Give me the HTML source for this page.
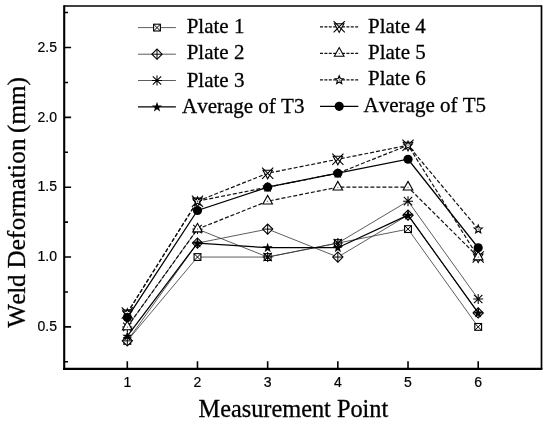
<!DOCTYPE html>
<html><head><meta charset="utf-8"><title>Weld Deformation</title>
<style>
html,body{margin:0;padding:0;background:#fff}
body{width:550px;height:425px;overflow:hidden}
svg{display:block}
.tk{font-family:"Liberation Sans",Arial,sans-serif;font-size:14px;fill:#000}
.ti{font-family:"Liberation Serif","Times New Roman",serif;font-size:24.3px;fill:#000}
.lg{font-family:"Liberation Serif","Times New Roman",serif;font-size:21px;fill:#000}
text{font-kerning:none}
.lg,.ti{stroke:#000;stroke-width:0.3px}
.tk{stroke:#000;stroke-width:0.2px}
</style></head><body>
<svg width="550" height="425" viewBox="0 0 550 425">
<rect width="550" height="425" fill="#fff"/>
<polyline points="127.30,340.87 197.48,257.05 267.66,257.05 337.84,243.08 408.02,229.11 478.20,326.90" fill="none" stroke="#333" stroke-width="0.8"/>
<rect x="123.90" y="337.47" width="6.8" height="6.8" fill="#fff" stroke="#000" stroke-width="1.1"/><path d="M123.90 337.47L130.70 344.27M130.70 337.47L123.90 344.27" stroke="#000" stroke-width="1" fill="none"/>
<rect x="194.08" y="253.65" width="6.8" height="6.8" fill="#fff" stroke="#000" stroke-width="1.1"/><path d="M194.08 253.65L200.88 260.45M200.88 253.65L194.08 260.45" stroke="#000" stroke-width="1" fill="none"/>
<rect x="264.26" y="253.65" width="6.8" height="6.8" fill="#fff" stroke="#000" stroke-width="1.1"/><path d="M264.26 253.65L271.06 260.45M271.06 253.65L264.26 260.45" stroke="#000" stroke-width="1" fill="none"/>
<rect x="334.44" y="239.68" width="6.8" height="6.8" fill="#fff" stroke="#000" stroke-width="1.1"/><path d="M334.44 239.68L341.24 246.48M341.24 239.68L334.44 246.48" stroke="#000" stroke-width="1" fill="none"/>
<rect x="404.62" y="225.71" width="6.8" height="6.8" fill="#fff" stroke="#000" stroke-width="1.1"/><path d="M404.62 225.71L411.42 232.51M411.42 225.71L404.62 232.51" stroke="#000" stroke-width="1" fill="none"/>
<rect x="474.80" y="323.50" width="6.8" height="6.8" fill="#fff" stroke="#000" stroke-width="1.1"/><path d="M474.80 323.50L481.60 330.30M481.60 323.50L474.80 330.30" stroke="#000" stroke-width="1" fill="none"/>
<polyline points="127.30,340.87 197.48,243.08 267.66,229.11 337.84,257.05 408.02,215.14 478.20,312.93" fill="none" stroke="#333" stroke-width="0.8"/>
<path d="M122.20 340.87L127.30 335.77L132.40 340.87L127.30 345.97Z" fill="#fff" stroke="#000" stroke-width="1.1"/><path d="M122.20 340.87H132.40M127.30 335.77V345.97" stroke="#000" stroke-width="1" fill="none"/>
<path d="M192.38 243.08L197.48 237.98L202.58 243.08L197.48 248.18Z" fill="#fff" stroke="#000" stroke-width="1.1"/><path d="M192.38 243.08H202.58M197.48 237.98V248.18" stroke="#000" stroke-width="1" fill="none"/>
<path d="M262.56 229.11L267.66 224.01L272.76 229.11L267.66 234.21Z" fill="#fff" stroke="#000" stroke-width="1.1"/><path d="M262.56 229.11H272.76M267.66 224.01V234.21" stroke="#000" stroke-width="1" fill="none"/>
<path d="M332.74 257.05L337.84 251.95L342.94 257.05L337.84 262.15Z" fill="#fff" stroke="#000" stroke-width="1.1"/><path d="M332.74 257.05H342.94M337.84 251.95V262.15" stroke="#000" stroke-width="1" fill="none"/>
<path d="M402.92 215.14L408.02 210.04L413.12 215.14L408.02 220.24Z" fill="#fff" stroke="#000" stroke-width="1.1"/><path d="M402.92 215.14H413.12M408.02 210.04V220.24" stroke="#000" stroke-width="1" fill="none"/>
<path d="M473.10 312.93L478.20 307.83L483.30 312.93L478.20 318.03Z" fill="#fff" stroke="#000" stroke-width="1.1"/><path d="M473.10 312.93H483.30M478.20 307.83V318.03" stroke="#000" stroke-width="1" fill="none"/>
<polyline points="127.30,326.90 197.48,229.11 267.66,257.05 337.84,243.08 408.02,201.17 478.20,298.96" fill="none" stroke="#333" stroke-width="0.8"/>
<path d="M122.30 326.90H132.30M127.30 321.90V331.90M123.10 322.70L131.50 331.10M131.50 322.70L123.10 331.10" stroke="#000" stroke-width="1.05" fill="none"/>
<path d="M192.48 229.11H202.48M197.48 224.11V234.11M193.28 224.91L201.68 233.31M201.68 224.91L193.28 233.31" stroke="#000" stroke-width="1.05" fill="none"/>
<path d="M262.66 257.05H272.66M267.66 252.05V262.05M263.46 252.85L271.86 261.25M271.86 252.85L263.46 261.25" stroke="#000" stroke-width="1.05" fill="none"/>
<path d="M332.84 243.08H342.84M337.84 238.08V248.08M333.64 238.88L342.04 247.28M342.04 238.88L333.64 247.28" stroke="#000" stroke-width="1.05" fill="none"/>
<path d="M403.02 201.17H413.02M408.02 196.17V206.17M403.82 196.97L412.22 205.37M412.22 196.97L403.82 205.37" stroke="#000" stroke-width="1.05" fill="none"/>
<path d="M473.20 298.96H483.20M478.20 293.96V303.96M474.00 294.76L482.40 303.16M482.40 294.76L474.00 303.16" stroke="#000" stroke-width="1.05" fill="none"/>
<polyline points="127.30,336.21 197.48,243.08 267.66,247.74 337.84,247.74 408.02,215.14 478.20,312.93" fill="none" stroke="#000" stroke-width="1.25"/>
<polygon points="127.30,331.11 128.53,334.71 132.34,334.78 129.30,337.06 130.42,340.70 127.30,338.51 124.18,340.70 125.30,337.06 122.26,334.78 126.07,334.71" fill="#000"/>
<polygon points="197.48,237.98 198.71,241.58 202.52,241.64 199.48,243.93 200.60,247.57 197.48,245.38 194.36,247.57 195.48,243.93 192.44,241.64 196.25,241.58" fill="#000"/>
<polygon points="267.66,242.64 268.89,246.24 272.70,246.30 269.66,248.59 270.78,252.22 267.66,250.04 264.54,252.22 265.66,248.59 262.62,246.30 266.43,246.24" fill="#000"/>
<polygon points="337.84,242.64 339.07,246.24 342.88,246.30 339.84,248.59 340.96,252.22 337.84,250.04 334.72,252.22 335.84,248.59 332.80,246.30 336.61,246.24" fill="#000"/>
<polygon points="408.02,210.04 409.25,213.64 413.06,213.70 410.02,215.99 411.14,219.63 408.02,217.44 404.90,219.63 406.02,215.99 402.98,213.70 406.79,213.64" fill="#000"/>
<polygon points="478.20,307.83 479.43,311.43 483.24,311.49 480.20,313.78 481.32,317.42 478.20,315.23 475.08,317.42 476.20,313.78 473.16,311.49 476.97,311.43" fill="#000"/>
<polyline points="127.30,312.93 197.48,201.17 267.66,173.23 337.84,159.26 408.02,145.29 478.20,257.05" fill="none" stroke="#111" stroke-width="1.2" stroke-dasharray="4 2"/>
<path d="M122.60 309.93H132.00L127.30 318.53Z" fill="#fff" stroke="#000" stroke-width="1.1"/><path d="M121.70 307.33L132.90 318.53M132.90 307.33L121.70 318.53" stroke="#000" stroke-width="1.1" fill="none"/>
<path d="M192.78 198.17H202.18L197.48 206.77Z" fill="#fff" stroke="#000" stroke-width="1.1"/><path d="M191.88 195.57L203.08 206.77M203.08 195.57L191.88 206.77" stroke="#000" stroke-width="1.1" fill="none"/>
<path d="M262.96 170.23H272.36L267.66 178.83Z" fill="#fff" stroke="#000" stroke-width="1.1"/><path d="M262.06 167.63L273.26 178.83M273.26 167.63L262.06 178.83" stroke="#000" stroke-width="1.1" fill="none"/>
<path d="M333.14 156.26H342.54L337.84 164.86Z" fill="#fff" stroke="#000" stroke-width="1.1"/><path d="M332.24 153.66L343.44 164.86M343.44 153.66L332.24 164.86" stroke="#000" stroke-width="1.1" fill="none"/>
<path d="M403.32 142.29H412.72L408.02 150.89Z" fill="#fff" stroke="#000" stroke-width="1.1"/><path d="M402.42 139.69L413.62 150.89M413.62 139.69L402.42 150.89" stroke="#000" stroke-width="1.1" fill="none"/>
<path d="M473.50 254.05H482.90L478.20 262.65Z" fill="#fff" stroke="#000" stroke-width="1.1"/><path d="M472.60 251.45L483.80 262.65M483.80 251.45L472.60 262.65" stroke="#000" stroke-width="1.1" fill="none"/>
<polyline points="127.30,326.90 197.48,229.11 267.66,201.17 337.84,187.20 408.02,187.20 478.20,257.05" fill="none" stroke="#111" stroke-width="1.2" stroke-dasharray="4 2"/>
<path d="M122.50 329.70H132.10L127.30 321.10Z" fill="#fff" stroke="#000" stroke-width="1.1"/><circle cx="127.30" cy="326.90" r="0.5" fill="#000"/>
<path d="M192.68 231.91H202.28L197.48 223.31Z" fill="#fff" stroke="#000" stroke-width="1.1"/><circle cx="197.48" cy="229.11" r="0.5" fill="#000"/>
<path d="M262.86 203.97H272.46L267.66 195.37Z" fill="#fff" stroke="#000" stroke-width="1.1"/><circle cx="267.66" cy="201.17" r="0.5" fill="#000"/>
<path d="M333.04 190.00H342.64L337.84 181.40Z" fill="#fff" stroke="#000" stroke-width="1.1"/><circle cx="337.84" cy="187.20" r="0.5" fill="#000"/>
<path d="M403.22 190.00H412.82L408.02 181.40Z" fill="#fff" stroke="#000" stroke-width="1.1"/><circle cx="408.02" cy="187.20" r="0.5" fill="#000"/>
<path d="M473.40 259.85H483.00L478.20 251.25Z" fill="#fff" stroke="#000" stroke-width="1.1"/><circle cx="478.20" cy="257.05" r="0.5" fill="#000"/>
<polyline points="127.30,312.93 197.48,201.17 267.66,187.20 337.84,173.23 408.02,145.29 478.20,229.11" fill="none" stroke="#111" stroke-width="1.2" stroke-dasharray="4 2"/>
<polygon points="127.30,308.83 128.42,311.59 131.39,311.80 129.11,313.72 129.83,316.61 127.30,315.03 124.77,316.61 125.49,313.72 123.21,311.80 126.18,311.59" fill="#fff" stroke="#000" stroke-width="1.1"/><circle cx="127.30" cy="312.93" r="0.55" fill="#000"/>
<polygon points="197.48,197.07 198.60,199.83 201.57,200.04 199.29,201.96 200.01,204.85 197.48,203.27 194.95,204.85 195.67,201.96 193.39,200.04 196.36,199.83" fill="#fff" stroke="#000" stroke-width="1.1"/><circle cx="197.48" cy="201.17" r="0.55" fill="#000"/>
<polygon points="267.66,183.10 268.78,185.86 271.75,186.07 269.47,187.99 270.19,190.88 267.66,189.30 265.13,190.88 265.85,187.99 263.57,186.07 266.54,185.86" fill="#fff" stroke="#000" stroke-width="1.1"/><circle cx="267.66" cy="187.20" r="0.55" fill="#000"/>
<polygon points="337.84,169.13 338.96,171.89 341.93,172.10 339.65,174.02 340.37,176.91 337.84,175.33 335.31,176.91 336.03,174.02 333.75,172.10 336.72,171.89" fill="#fff" stroke="#000" stroke-width="1.1"/><circle cx="337.84" cy="173.23" r="0.55" fill="#000"/>
<polygon points="408.02,141.19 409.14,143.95 412.11,144.16 409.83,146.08 410.55,148.97 408.02,147.39 405.49,148.97 406.21,146.08 403.93,144.16 406.90,143.95" fill="#fff" stroke="#000" stroke-width="1.1"/><circle cx="408.02" cy="145.29" r="0.55" fill="#000"/>
<polygon points="478.20,225.01 479.32,227.77 482.29,227.98 480.01,229.90 480.73,232.79 478.20,231.21 475.67,232.79 476.39,229.90 474.11,227.98 477.08,227.77" fill="#fff" stroke="#000" stroke-width="1.1"/><circle cx="478.20" cy="229.11" r="0.55" fill="#000"/>
<polyline points="127.30,317.59 197.48,210.48 267.66,187.20 337.84,173.23 408.02,159.26 478.20,247.74" fill="none" stroke="#000" stroke-width="1.25"/>
<circle cx="127.30" cy="317.59" r="4.6" fill="#000"/>
<circle cx="197.48" cy="210.48" r="4.6" fill="#000"/>
<circle cx="267.66" cy="187.20" r="4.6" fill="#000"/>
<circle cx="337.84" cy="173.23" r="4.6" fill="#000"/>
<circle cx="408.02" cy="159.26" r="4.6" fill="#000"/>
<circle cx="478.20" cy="247.74" r="4.6" fill="#000"/>
<path d="M64.2 5.2V370.04999999999995" stroke="#000" stroke-width="2.1" fill="none"/>
<path d="M63.150000000000006 368.9H542.35" stroke="#000" stroke-width="2.3" fill="none"/>
<path d="M64.2 6.0H541.5" stroke="#000" stroke-width="1.6" fill="none"/>
<path d="M541.5 5.2V368.9" stroke="#000" stroke-width="1.7" fill="none"/>
<path d="M64.2 326.90h6.9M64.2 257.05h6.9M64.2 187.20h6.9M64.2 117.35h6.9M64.2 47.50h6.9M64.2 361.82h3.8M64.2 291.97h3.8M64.2 222.12h3.8M64.2 152.27h3.8M64.2 82.43h3.8M64.2 12.57h3.8M127.30 368.9v-7.6M197.48 368.9v-7.6M267.66 368.9v-7.6M337.84 368.9v-7.6M408.02 368.9v-7.6M478.20 368.9v-7.6" stroke="#000" stroke-width="1.6" fill="none"/>
<text x="57" y="331.10" text-anchor="end" class="tk">0.5</text>
<text x="57" y="261.25" text-anchor="end" class="tk">1.0</text>
<text x="57" y="191.40" text-anchor="end" class="tk">1.5</text>
<text x="57" y="121.55" text-anchor="end" class="tk">2.0</text>
<text x="57" y="51.70" text-anchor="end" class="tk">2.5</text>
<text x="127.30" y="387.3" text-anchor="middle" class="tk">1</text>
<text x="197.48" y="387.3" text-anchor="middle" class="tk">2</text>
<text x="267.66" y="387.3" text-anchor="middle" class="tk">3</text>
<text x="337.84" y="387.3" text-anchor="middle" class="tk">4</text>
<text x="408.02" y="387.3" text-anchor="middle" class="tk">5</text>
<text x="478.20" y="387.3" text-anchor="middle" class="tk">6</text>
<text x="293.4" y="416.6" text-anchor="middle" class="ti">Measurement Point</text>
<g transform="translate(24.6 0) rotate(-90)" class="ti" style="font-size:25.1px"><text x="-327.8" y="0" style="letter-spacing:-0.35px">Weld</text><text x="-268.55" y="0" style="letter-spacing:0.19px">Deformation</text><text x="-132.95" y="0">(mm)</text></g>
<path d="M138 27.6H175.9" fill="none" stroke="#333" stroke-width="0.8"/>
<rect x="153.60" y="24.20" width="6.8" height="6.8" fill="#fff" stroke="#000" stroke-width="1.1"/><path d="M153.60 24.20L160.40 31.00M160.40 24.20L153.60 31.00" stroke="#000" stroke-width="1" fill="none"/>
<text x="186.7" y="33.2" class="lg">Plate 1</text>
<path d="M138 54.2H175.9" fill="none" stroke="#333" stroke-width="0.8"/>
<path d="M151.90 54.20L157.00 49.10L162.10 54.20L157.00 59.30Z" fill="#fff" stroke="#000" stroke-width="1.1"/><path d="M151.90 54.20H162.10M157.00 49.10V59.30" stroke="#000" stroke-width="1" fill="none"/>
<text x="186.7" y="59.4" class="lg">Plate 2</text>
<path d="M138 80.5H175.9" fill="none" stroke="#333" stroke-width="0.8"/>
<path d="M152.00 80.50H162.00M157.00 75.50V85.50M152.80 76.30L161.20 84.70M161.20 76.30L152.80 84.70" stroke="#000" stroke-width="1.05" fill="none"/>
<text x="186.7" y="86.6" class="lg">Plate 3</text>
<path d="M138 106.9H175.9" fill="none" stroke="#000" stroke-width="1.25"/>
<polygon points="157.00,101.80 158.23,105.40 162.04,105.46 159.00,107.75 160.12,111.39 157.00,109.20 153.88,111.39 155.00,107.75 151.96,105.46 155.77,105.40" fill="#000"/>
<text x="182.0" y="113.1" class="lg">Average of T3</text>
<path d="M320 26.8H358.3" fill="none" stroke="#111" stroke-width="1.2" stroke-dasharray="3 1.4"/>
<path d="M334.50 23.80H343.90L339.20 32.40Z" fill="#fff" stroke="#000" stroke-width="1.1"/><path d="M333.60 21.20L344.80 32.40M344.80 21.20L333.60 32.40" stroke="#000" stroke-width="1.1" fill="none"/>
<text x="368.0" y="32.5" class="lg">Plate 4</text>
<path d="M320 53.4H358.3" fill="none" stroke="#111" stroke-width="1.2" stroke-dasharray="3 1.4"/>
<path d="M334.40 56.20H344.00L339.20 47.60Z" fill="#fff" stroke="#000" stroke-width="1.1"/><circle cx="339.20" cy="53.40" r="0.5" fill="#000"/>
<text x="368.0" y="58.7" class="lg">Plate 5</text>
<path d="M320 79.9H358.3" fill="none" stroke="#111" stroke-width="1.2" stroke-dasharray="3 1.4"/>
<polygon points="339.20,75.80 340.32,78.56 343.29,78.77 341.01,80.69 341.73,83.58 339.20,82.00 336.67,83.58 337.39,80.69 335.11,78.77 338.08,78.56" fill="#fff" stroke="#000" stroke-width="1.1"/><circle cx="339.20" cy="79.90" r="0.55" fill="#000"/>
<text x="368.0" y="85.3" class="lg">Plate 6</text>
<path d="M320 106.3H358.3" fill="none" stroke="#000" stroke-width="1.25"/>
<circle cx="339.20" cy="106.30" r="4.6" fill="#000"/>
<text x="363.6" y="111.7" class="lg">Average of T5</text>
</svg>
</body></html>
